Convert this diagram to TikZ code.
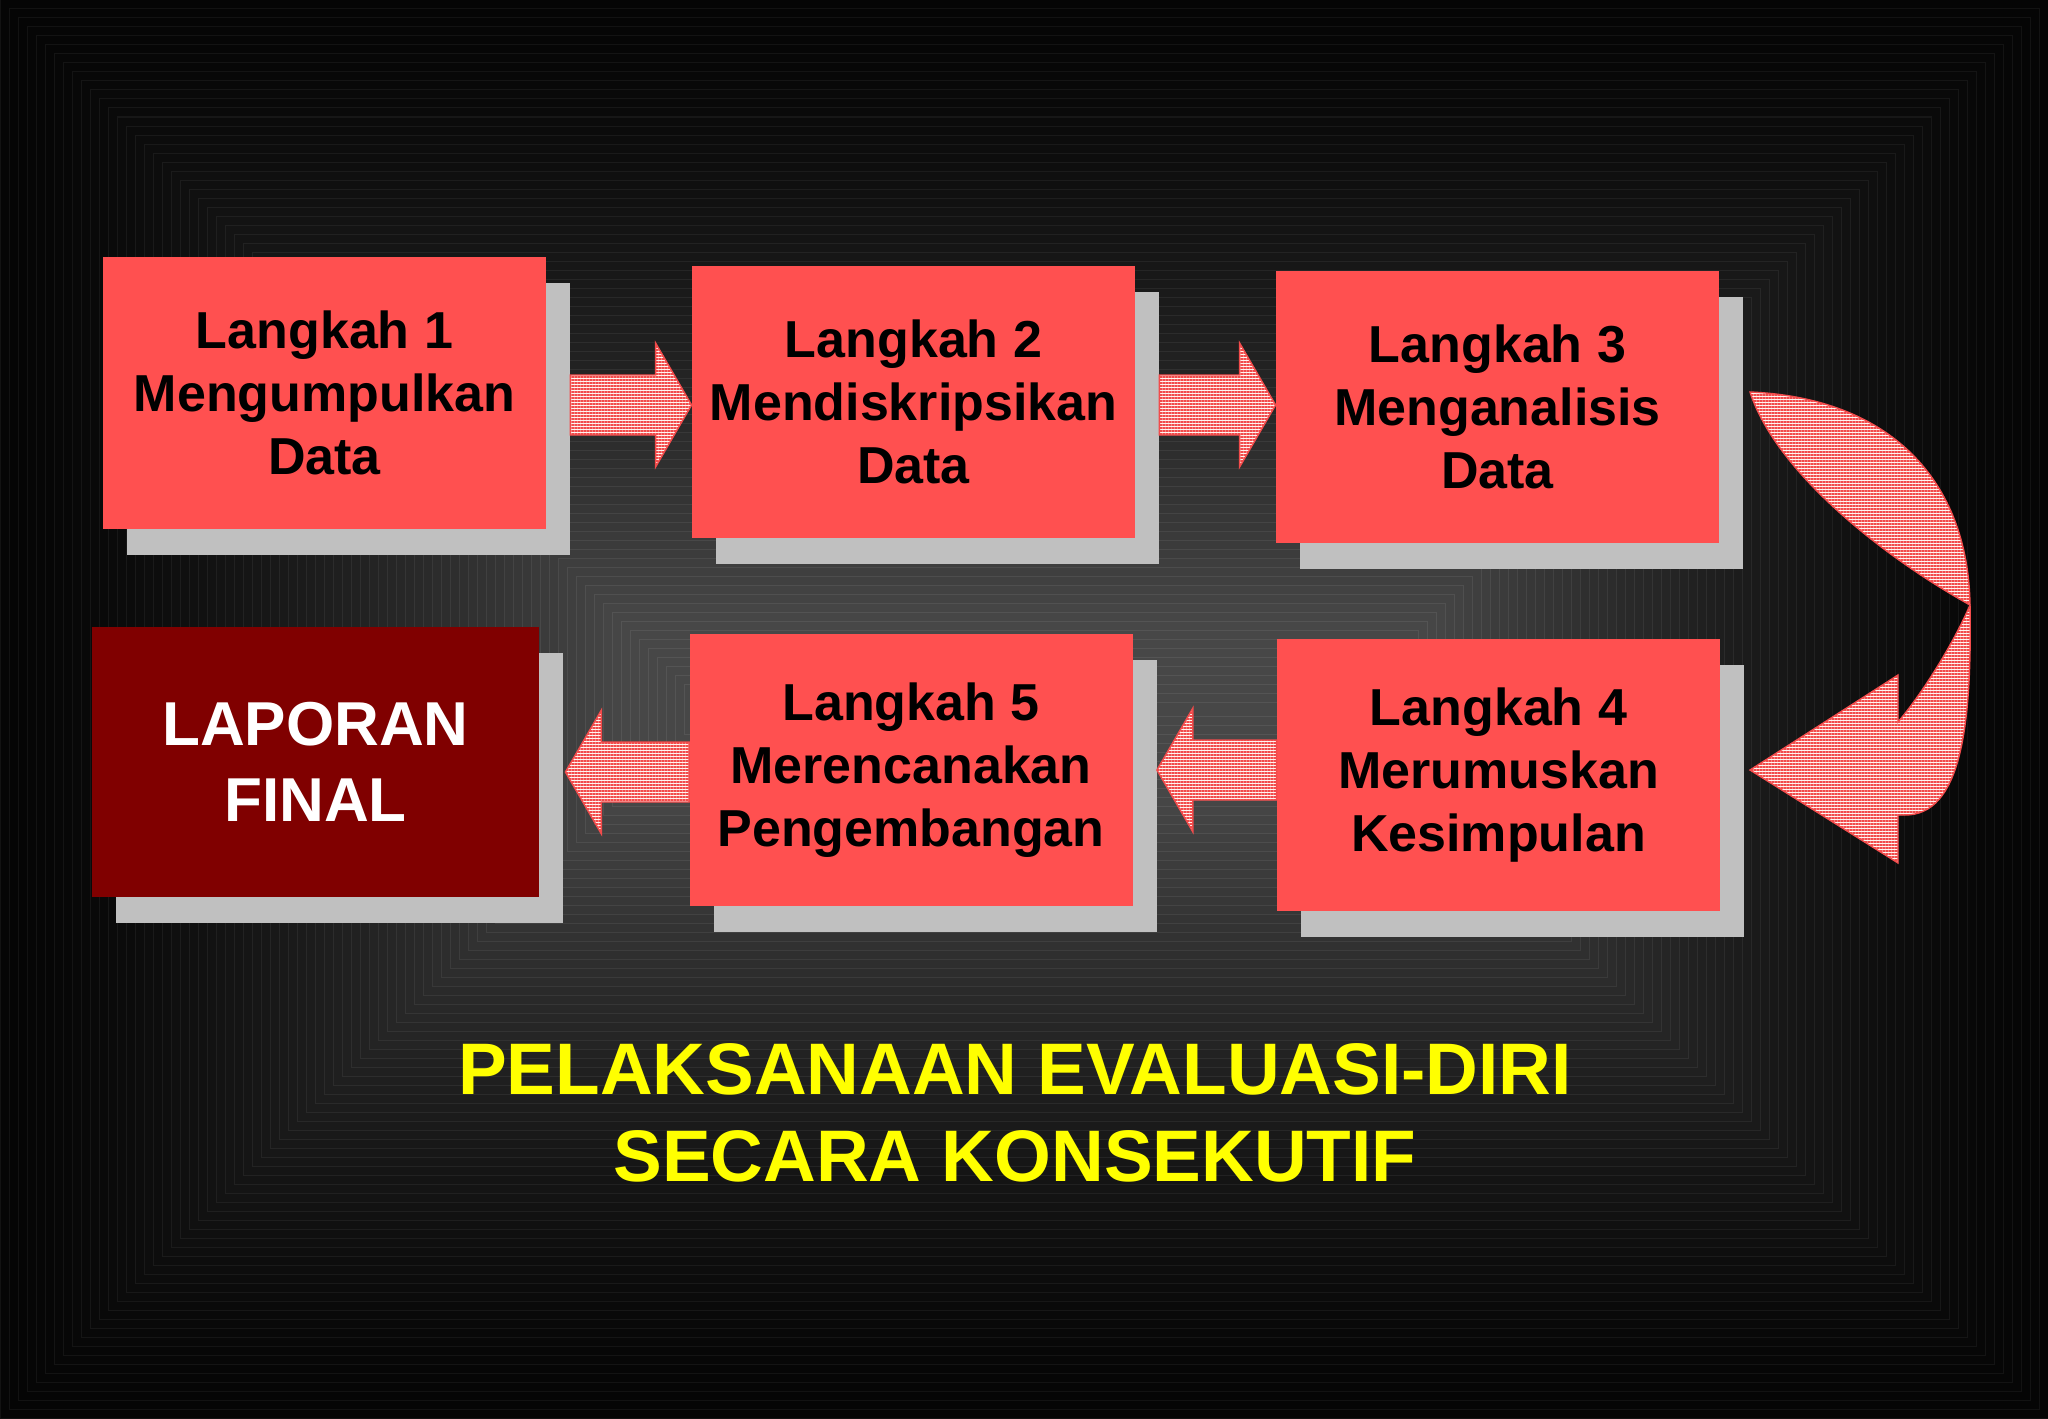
\documentclass[tikz,border=0pt]{standalone}
\usepackage{fontspec}
\setmainfont{Liberation Sans}
\usetikzlibrary{calc}
\usetikzlibrary{shadows}
\usetikzlibrary{patterns.meta}

\definecolor{boxred}{HTML}{FF5050}
\definecolor{finalred}{HTML}{800000}
\definecolor{boxshadow}{HTML}{C0C0C0}
\definecolor{stripered}{HTML}{F24B4B}
\definecolor{stripewhite}{HTML}{FFF4F0}
\definecolor{titleyellow}{HTML}{FFFF00}

\tikzset{
  stepbox/.style={rectangle, fill=boxred, inner sep=0pt, align=center,
    minimum width=221.5pt, minimum height=136pt,
    font=\fontsize{26pt}{31.5pt}\selectfont\bfseries,
    drop shadow={shadow xshift=12pt, shadow yshift=-13pt, fill=boxshadow, opacity=1}},
  finalbox/.style={stepbox, fill=finalred, text=white, minimum width=223.5pt,
    minimum height=135pt, font=\fontsize{31pt}{38pt}\selectfont\bfseries},
  title/.style={text=titleyellow, align=center, inner sep=0pt,
    font=\fontsize{36.5pt}{43.5pt}\selectfont\bfseries},
  stripe/.style={draw=stripered, line width=0.7pt, preaction={fill=stripewhite},
    pattern={Lines[distance=1.5pt, line width=0.75pt]}, pattern color=stripered},
}

% block arrow: tail, tip, height of its axis
\newcommand{\blockarrow}[3]{%
  \path[stripe] let \p1=(#1), \p2=(#2), \p3=(0,#3),
    \n1={\x2+18*sign(\x1-\x2)} in
    (\x1,\y3+15pt) -- ({\n1*1pt},\y3+15pt) -- ({\n1*1pt},\y3+31pt) -- (\x2,\y3)
    -- ({\n1*1pt},\y3-31pt) -- ({\n1*1pt},\y3-15pt) -- (\x1,\y3-15pt) -- cycle;}

\begin{document}
\begin{tikzpicture}[x=0.5pt, y=-0.5pt]
\useasboundingbox (0,0) rectangle (2048,1418);

% background rings
\foreach \d in {0,9,...,702} {
  \pgfmathsetmacro\lev{min(28, 2+26*(\d/620)^1.5)}
  \pgfmathsetmacro\edge{\lev+5}
  \filldraw[fill=white!\lev!black, draw=white!\edge!black, line width=0.5pt]
    (\d,\d) rectangle (2048-\d,1418-\d);
}

% steps
\node[stepbox] (b1) at (324.5,392.5) {Langkah 1\\Mengumpulkan\\Data};
\node[stepbox] (b2) at (913.5,401.5) {Langkah 2\\Mendiskripsikan\\Data};
\node[stepbox] (b3) at (1497.5,407) {Langkah 3\\Menganalisis\\Data};
\node[stepbox] (b4) at (1498.5,775) {Langkah 4\\Merumuskan\\Kesimpulan};
\node[stepbox] (b5) at (911,770) {Langkah 5\\Merencanakan\\Pengembangan};
\node[finalbox] (lap) at (315.5,762) {LAPORAN\\FINAL};

% arrows between the steps
\blockarrow{$(b1.east)+(24,0)$}{b2.west}{405}
\blockarrow{$(b2.east)+(24,0)$}{b3.west}{405}
\blockarrow{b4.west}{$(b5.east)+(24,0)$}{770}
\blockarrow{b5.west}{$(lap.east)+(26,0)$}{772}

% curved arrow from step 3 to step 4
\path[stripe] (1750,392) .. controls (1890,398) and (1968,480) .. (1970,605)
  .. controls (1972,730) and (1960,815) .. (1905,815) -- (1898,815)
  -- (1898,863) -- (1750,770) -- (1898,675) -- (1898,722)
  .. controls (1925,690) and (1955,640) .. (1970,605)
  .. controls (1880,555) and (1775,470) .. (1750,392) -- cycle;

% title
\node[title] (ttl) at (1015,1113) {PELAKSANAAN EVALUASI-DIRI\\SECARA KONSEKUTIF};
\end{tikzpicture}
\end{document}
